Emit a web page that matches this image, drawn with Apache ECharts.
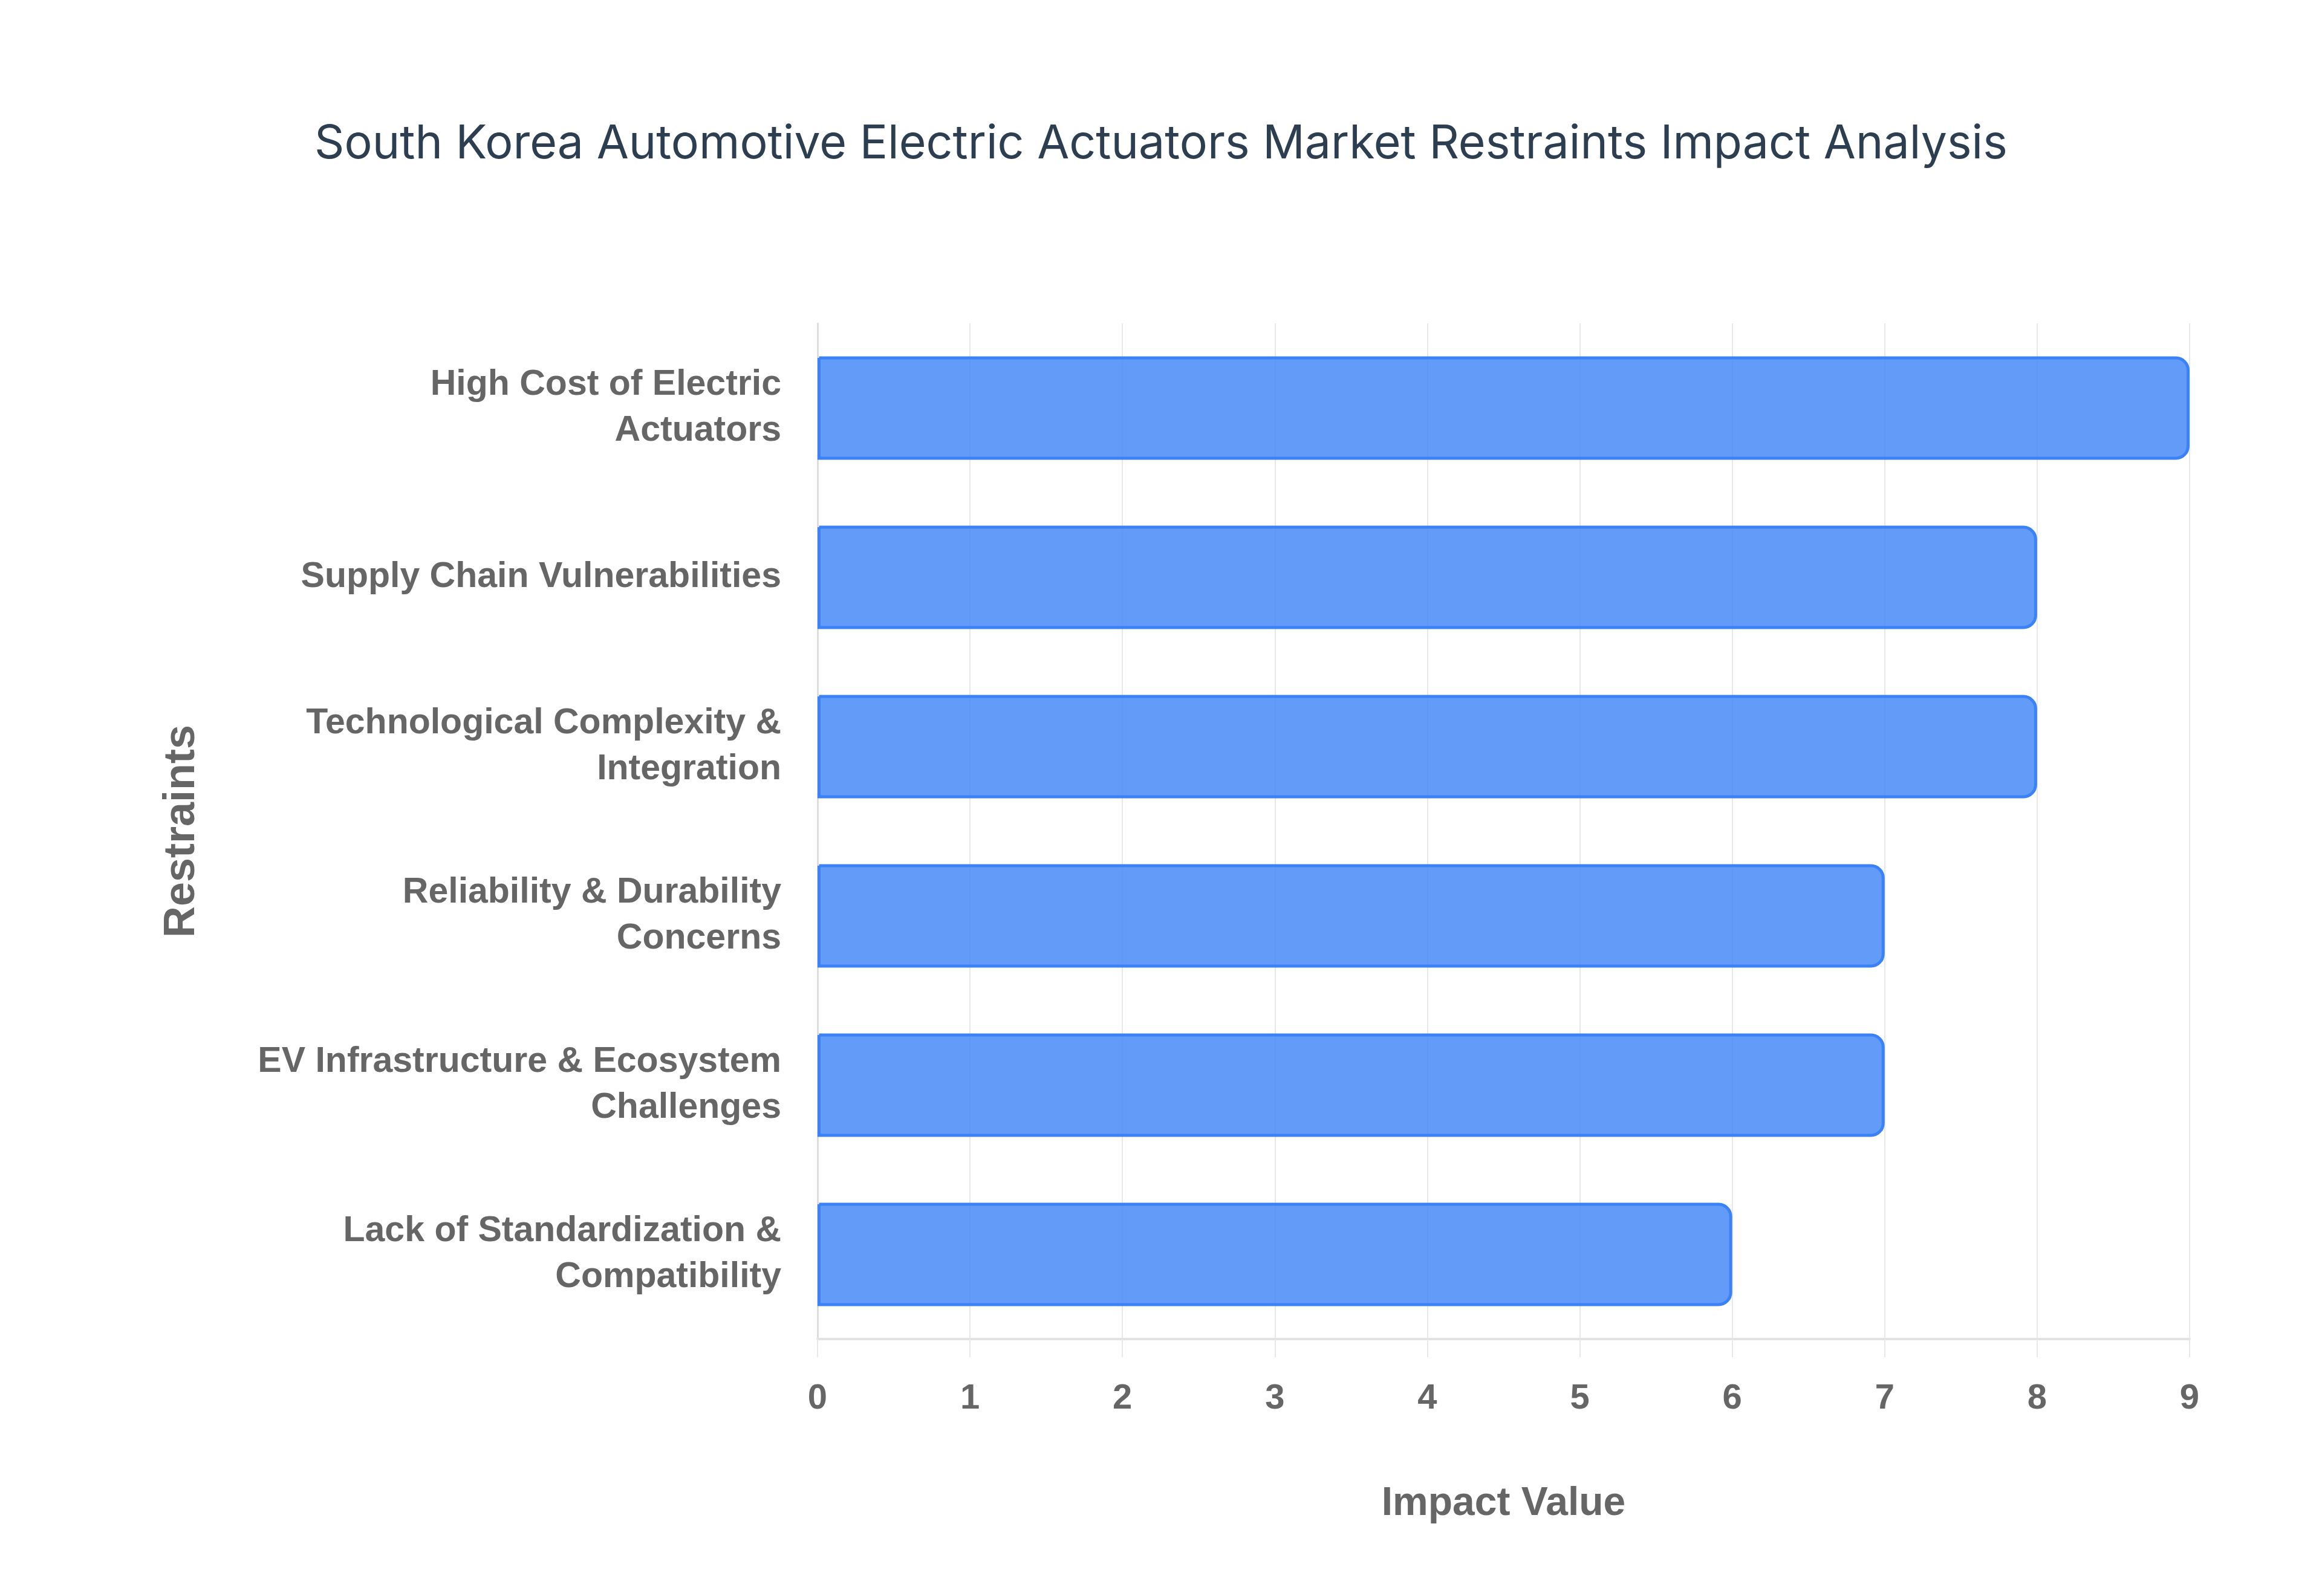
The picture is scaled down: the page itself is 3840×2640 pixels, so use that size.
<!DOCTYPE html>
<html>
<head>
<meta charset="utf-8">
<script src="https://cdn.jsdelivr.net/npm/echarts@6/dist/echarts.min.js"></script>
<style>
html,body{margin:0;padding:0;background:#fff;}
#chart{width:3840px;height:2640px;}
</style>
</head>
<body>
<div id="chart"></div>
<script>
const categories = [
  "High Cost of Electric\nActuators",
  "Supply Chain Vulnerabilities",
  "Technological Complexity &\nIntegration",
  "Reliability & Durability\nConcerns",
  "EV Infrastructure & Ecosystem\nChallenges",
  "Lack of Standardization &\nCompatibility"
];
const impactValues = [9, 8, 8, 7, 7, 6];
const xTicks = [0, 1, 2, 3, 4, 5, 6, 7, 8, 9];

const chart = echarts.init(document.getElementById('chart'));
const gray = '#666666';
const labelFont = '"Liberation Sans", Arial, Helvetica, sans-serif';
chart.setOption({
  backgroundColor: '#ffffff',
  title: {
    text: 'South Korea Automotive Electric Actuators Market Restraints Impact Analysis',
    left: 'center',
    top: 195,
    textStyle: {
      fontFamily: 'Inter, "Noto Sans", sans-serif',
      fontWeight: 'normal',
      fontSize: 77,
      color: '#2c3e50'
    }
  },
  grid: {
    left: 1352,
    right: 219,
    top: 535,
    bottom: 425,
    containLabel: false
  },
  xAxis: {
    type: 'value',
    min: xTicks[0],
    max: xTicks[xTicks.length - 1],
    interval: 1,
    name: 'Impact Value',
    nameLocation: 'middle',
    nameGap: 240,
    nameTextStyle: {
      fontFamily: labelFont,
      fontWeight: 'bold',
      fontSize: 66,
      color: gray
    },
    axisLine: { show: true, lineStyle: { color: '#e3e3e3', width: 4 } },
    axisTick: { show: true, length: 30, lineStyle: { color: '#e8e8e8', width: 2 } },
    axisLabel: {
      margin: 70,
      fontFamily: labelFont,
      fontWeight: 'bold',
      fontSize: 58,
      color: gray
    },
    splitLine: { show: true, lineStyle: { color: '#e8e8e8', width: 2 } }
  },
  yAxis: {
    type: 'category',
    data: categories,
    inverse: true,
    name: 'Restraints',
    nameLocation: 'middle',
    nameGap: 1015,
    nameTextStyle: {
      fontFamily: labelFont,
      fontWeight: 'bold',
      fontSize: 72,
      color: gray
    },
    axisLine: { show: true, lineStyle: { color: '#dddddd', width: 3 } },
    axisTick: { show: false },
    axisLabel: {
      margin: 60,
      fontFamily: labelFont,
      fontWeight: 'bold',
      fontSize: 59,
      lineHeight: 76,
      color: gray,
      align: 'right'
    }
  },
  series: [{
    type: 'bar',
    data: impactValues,
    barCategoryGap: '39%',
    itemStyle: {
      color: 'rgba(59,130,246,0.8)',
      borderColor: '#3b82f6',
      borderWidth: 5,
      borderRadius: [0, 20, 20, 0]
    },
    emphasis: { disabled: true }
  }]
});
</script>
</body>
</html>
